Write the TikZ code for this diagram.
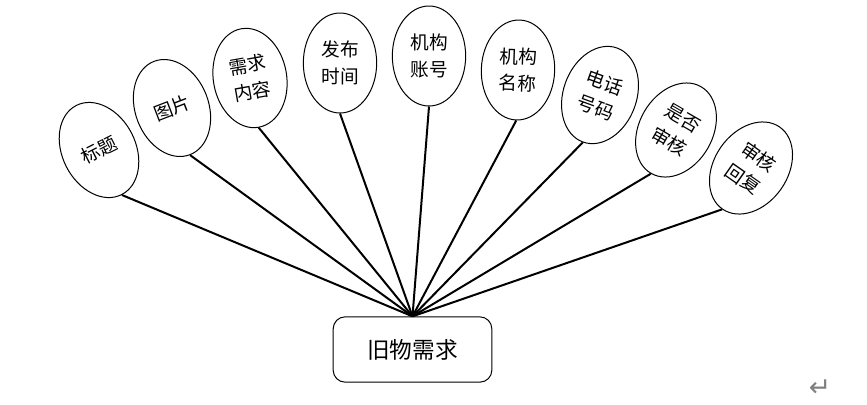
\documentclass[tikz,border=0pt]{standalone}
\usepackage{fontspec}
\setmainfont{Noto Sans CJK SC}
\newfontfamily\symfont{DejaVu Sans}
\usetikzlibrary{shapes.geometric}
\tikzset{
  attr/.style={ellipse, draw, line width=0.75pt, minimum width=55pt, minimum height=75pt,
    inner sep=0pt, align=center, font=\fontsize{14pt}{20pt}\selectfont},
  entity/.style={draw, rounded corners=9pt, line width=0.75pt, minimum width=119pt,
    minimum height=49pt, inner sep=0pt, font=\fontsize{17pt}{20pt}\selectfont},
  link/.style={line width=1.5pt}
}
\begin{document}
\begin{tikzpicture}[x=0.75pt,y=-0.75pt]
\useasboundingbox (0,0) rectangle (867,404);
\node[entity] (hub) at (412.5,349.5) {旧物需求};
\node[attr, rotate=27] (e1) at (99,150) {标题};
\node[attr, rotate=21] (e2) at (172,108) {图片};
\node[attr, rotate=10] (e3) at (250,78) {需求\\内容};
\node[attr] (e4) at (340,63) {发布\\时间};
\node[attr] (e5) at (429,56) {机构\\账号};
\node[attr, rotate=-2] (e6) at (518,70) {机构\\名称};
\node[attr, rotate=-20] (e7) at (600,95) {电话\\号码};
\node[attr, rotate=-30] (e8) at (676,130) {是否\\审核};
\node[attr, rotate=-35] (e9) at (751,168) {审核\\回复};
\foreach \i in {1,...,9} {\draw[link] (hub.north) -- (e\i.south);}
\node[text=gray, font=\symfont\fontsize{20pt}{20pt}\selectfont] (ret) at (820,388) {↵};
\end{tikzpicture}
\end{document}
